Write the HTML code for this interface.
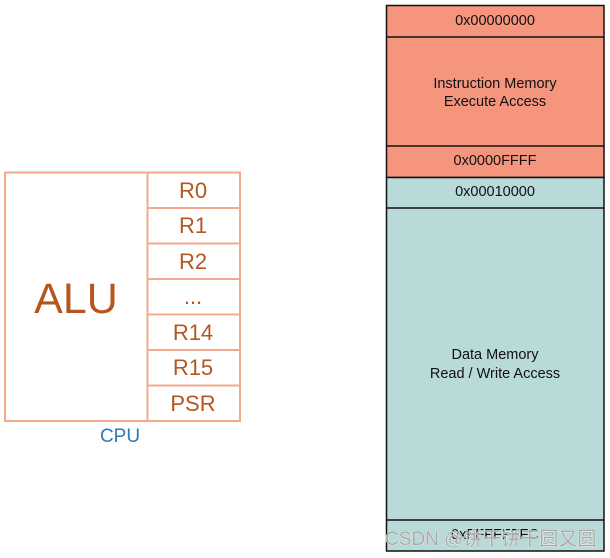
<!DOCTYPE html>
<html><head><meta charset="utf-8"><style>
html,body{margin:0;padding:0;background:#fff;width:610px;height:558px;overflow:hidden}
svg text{font-family:"Liberation Sans",Arial,sans-serif}
</style></head><body>
<svg width="610" height="558" viewBox="0 0 610 558" xmlns="http://www.w3.org/2000/svg">
<g fill="none" stroke="#f4a98f" stroke-width="2">
<rect x="5" y="172.5" width="235" height="248.5"/>
<line x1="147.5" y1="172.5" x2="147.5" y2="421"/>
<line x1="147.5" y1="208" x2="240" y2="208"/>
<line x1="147.5" y1="243.5" x2="240" y2="243.5"/>
<line x1="147.5" y1="279" x2="240" y2="279"/>
<line x1="147.5" y1="314.5" x2="240" y2="314.5"/>
<line x1="147.5" y1="350" x2="240" y2="350"/>
<line x1="147.5" y1="385.5" x2="240" y2="385.5"/>
</g>
<g fill="#b5561f" text-anchor="middle" font-size="22">
<text x="76" y="313" font-size="43">ALU</text>
<text x="193" y="198">R0</text>
<text x="193" y="233">R1</text>
<text x="193" y="269">R2</text>
<text x="193" y="304">...</text>
<text x="193" y="340">R14</text>
<text x="193" y="375">R15</text>
<text x="193" y="411">PSR</text>
</g>
<text x="120" y="442" font-size="19" fill="#2b79b7" text-anchor="middle">CPU</text>
<g stroke="#111" stroke-width="1.5">
<rect x="386.5" y="5.5" width="217.5" height="172" fill="#f5957d"/>
<rect x="386.5" y="177.5" width="217.5" height="373.5" fill="#b8dad8"/>
<line x1="386.5" y1="37" x2="604" y2="37"/>
<line x1="386.5" y1="146" x2="604" y2="146"/>
<line x1="386.5" y1="208" x2="604" y2="208"/>
<line x1="386.5" y1="520" x2="604" y2="520"/>
</g>
<g fill="#111" text-anchor="middle" font-size="14.5">
<text x="495" y="25">0x00000000</text>
<text x="495" y="88">Instruction Memory</text>
<text x="495" y="106">Execute Access</text>
<text x="495" y="165">0x0000FFFF</text>
<text x="495" y="196">0x00010000</text>
<text x="495" y="359">Data Memory</text>
<text x="495" y="378">Read / Write Access</text>
<text x="495" y="539">0xFFFFFFFC</text>
</g>
<text x="385" y="545" font-size="19" fill="#a8a8a8" stroke="#fff" stroke-width="0.6" paint-order="stroke" font-family="'Liberation Sans','Noto Sans CJK SC',sans-serif">CSDN @饼干饼干圆又圆</text>
</svg>
</body></html>
